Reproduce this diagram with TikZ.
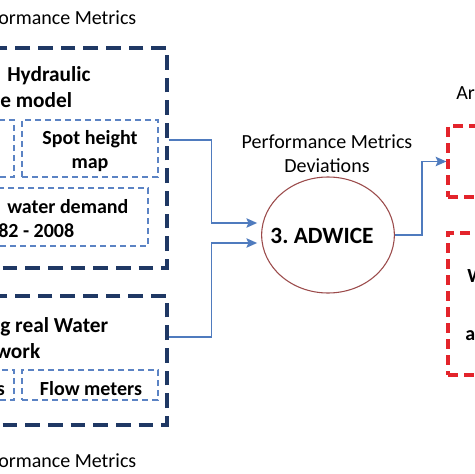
\documentclass[tikz,border=0pt]{standalone}
\usepackage{fontspec}
\setmainfont{Carlito}
\usetikzlibrary{arrows.meta,fit,shapes.geometric}
\definecolor{navy}{HTML}{1F3864}
\definecolor{lblue}{HTML}{5B83C4}
\definecolor{cblue}{HTML}{4F7BBE}
\definecolor{dred}{HTML}{9B4A4A}
\definecolor{rred}{HTML}{E3242B}
\begin{document}
\begin{tikzpicture}[x=0.75pt,y=-0.75pt,
 outerbox/.style={draw=navy, line width=2.3pt, dash pattern=on 11pt off 6pt, inner sep=0pt},
 innerbox/.style={draw=lblue, line width=1.1pt, dash pattern=on 4.5pt off 3pt, inner sep=0pt},
 redbox/.style={draw=rred, line width=2.4pt, dash pattern=on 7.5pt off 4.5pt, inner sep=0pt},
 conn/.style={draw=cblue, line width=1.4pt, -{Stealth[length=8pt,width=7pt,inset=1.5pt]}},
 reg/.style={font=\fontsize{15}{18}\selectfont, inner sep=0pt},
 bld/.style={font=\fontsize{15}{18}\selectfont\bfseries, inner sep=0pt},
 hdr/.style={font=\fontsize{16}{19}\selectfont\bfseries, inner sep=0pt}]
\useasboundingbox (0,0) rectangle (474,474);
\fill[white] (0,0) rectangle (474,474);
% boxes
\node[outerbox, fit={(-20,48) (167,268)}] (hyd) {};
\node[innerbox, fit={(-20,120) (14,177)}] (hydA) {};
\node[innerbox, fit={(22,120) (158,177)}] (spot) {};
\node[innerbox, fit={(-20,188) (148,246)}] (dem) {};
\node[outerbox, fit={(-20,296) (167,425)}] (net) {};
\node[innerbox, fit={(-20,370) (14,400)}] (netA) {};
\node[innerbox, fit={(22,370) (158,400)}] (flow) {};
\node[draw=dred, line width=0.8pt, ellipse, minimum width=99.5pt, minimum height=87pt, inner sep=0pt] (adw) at (328,235) {};
\node[redbox, fit={(448,126) (500,197)}] (out1) {};
\node[redbox, fit={(448,233) (500,375)}] (out2) {};
% texts
\node[reg, anchor=base west] (t1) at (-2,25) {ormance Metrics};
\node[hdr, anchor=base west] (t2) at (7,82) {Hydraulic};
\node[hdr, anchor=base west] (t3) at (0,108) {e model};
\node[bld, anchor=base] (t4) at (90,145) {Spot height};
\node[bld, anchor=base] (t5) at (90,168) {map};
\node[bld, anchor=base west] (t6) at (7,213) {water demand};
\node[bld, anchor=base west] (t7) at (-2,237) {82 - 2008};
\node[hdr, anchor=base west] (t8) at (0,332) {g real Water};
\node[hdr, anchor=base west] (t9) at (-5,358) {work};
\node[bld, anchor=base east] (t10) at (5,395) {s};
\node[bld, anchor=base] (t11) at (91,395) {Flow meters};
\node[reg, anchor=base west] (t12) at (-2,467) {ormance Metrics};
\node[reg, anchor=base] (t13) at (327,148) {Performance Metrics};
\node[reg, anchor=base] (t14) at (327,172) {Deviations};
\node[font=\fontsize{17.5}{20}\selectfont\bfseries, inner sep=0pt, anchor=base] (t15) at (322,243) {3.~ADWICE};
\node[reg, anchor=base west] (t16) at (456,100) {Ar};
\node[bld, anchor=base west] (t17) at (467,282) {W};
\node[bld, anchor=base west] (t18) at (465,340) {a};
% connectors
\draw[conn] ([yshift=13.5pt]hyd.east) -- ++(43,0) |- ([xshift=-3pt,yshift=9pt]adw.west);
\draw[conn] ([yshift=17.6pt]net.east) -- ++(43,0) |- ([xshift=-3pt,yshift=-6pt]adw.west);
\draw[conn] (adw.east) -- ++(27,0) |- (out1.west);
\end{tikzpicture}
\end{document}
